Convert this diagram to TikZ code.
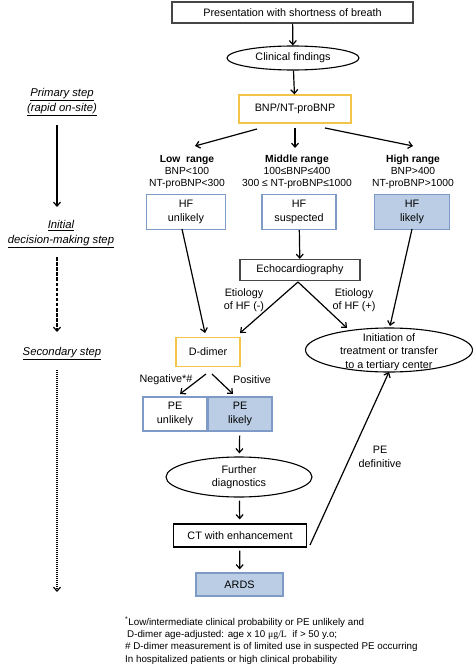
\documentclass[tikz,border=0pt]{standalone}
\usepackage{fontspec}
\setmainfont{Liberation Sans}
\newfontfamily\serifmu{Liberation Serif}
\usetikzlibrary{arrows.meta,shapes.geometric}
\definecolor{ylw}{RGB}{242,196,72}
\definecolor{bluebd}{RGB}{125,155,198}
\definecolor{bluefl}{RGB}{186,205,228}
\definecolor{grayln}{RGB}{70,70,70}
\tikzset{
  base/.style={font=\fontsize{10.8}{13.5}\selectfont, align=center, inner sep=0pt},
  blackbox/.style={base, draw=grayln, line width=1.1pt, rectangle},
  oval/.style={base, draw=black, line width=1.1pt, ellipse},
  ybox/.style={base, draw=ylw, line width=1.1pt},
  wbbox/.style={base, draw=bluebd, line width=1.1pt, fill=white},
  fbbox/.style={base, draw=bluebd, line width=1.1pt, fill=bluefl},
  lbl/.style={base},
  rng/.style={font=\fontsize{10.3}{11.7}\selectfont, align=center, inner sep=0pt},
  steplbl/.style={font=\fontsize{11.3}{14.5}\selectfont\itshape, align=center, inner sep=0pt},
  arr/.style={line width=1.2pt, -{Straight Barb[length=4pt,width=7pt,line width=1.2pt]}},
}
\begin{document}
\begin{tikzpicture}[x=1pt,y=-1pt]
\useasboundingbox (0,0) rectangle (474,669);

% main nodes
\node[blackbox, minimum width=241pt, minimum height=21pt] (top) at (292.5,12.5) {Presentation with shortness of breath};
\node[oval, minimum width=132pt, minimum height=24pt] (clin) at (293,58) {Clinical findings};
\node[ybox, minimum width=112pt, minimum height=28pt] (bnp) at (295,109) {BNP/NT-proBNP};

\node[rng] (low) at (187,172) {\textbf{Low\ \ range}\\BNP<100\\NT-proBNP<300};
\node[rng] (mid) at (297,172) {\textbf{Middle range}\\100≤BNP≤400\\300 ≤ NT-proBNP≤1000};
\node[rng] (high) at (413,172) {\textbf{High range}\\BNP>400\\NT-proBNP>1000};

\node[wbbox, minimum width=79pt, minimum height=35pt] (hfu) at (186,212) {HF\\unlikely};
\node[wbbox, minimum width=74pt, minimum height=35pt] (hfs) at (299,212) {HF\\suspected};
\node[fbbox, minimum width=75pt, minimum height=35pt] (hfl) at (412,212) {HF\\likely};

\node[blackbox, minimum width=120pt, minimum height=21pt] (echo) at (300,270) {Echocardiography};
\node[lbl] (etm) at (244,300) {Etiology\\of HF (-)};
\node[lbl] (etp) at (354,300) {Etiology\\of HF (+)};

\node[ybox, minimum width=64pt, minimum height=29pt] (dd) at (208,352) {D-dimer};
\node[oval, minimum width=167pt, minimum height=44pt] (init) at (389,350) {};
\node[lbl] (inittxt) at (389,352) {Initiation of\\treatment or transfer\\to a tertiary center};

\node[lbl] (neg) at (166,380) {Negative*\#};
\node[lbl] (pos) at (252,380) {Positive};

\node[wbbox, minimum width=64pt, minimum height=34pt] (peu) at (175,414) {PE\\unlikely};
\node[fbbox, minimum width=64pt, minimum height=34pt] (pel) at (240,414) {PE\\likely};

\node[oval, minimum width=146pt, minimum height=40pt] (fur) at (239,477) {Further\\diagnostics};
\node[blackbox, draw=black, minimum width=133pt, minimum height=23pt] (ct) at (240,535.5) {CT with enhancement};
\node[fbbox, minimum width=87pt, minimum height=23pt] (ards) at (239.5,584.5) {ARDS};
\node[lbl] (pedef) at (380,457) {PE\\definitive};

% left column
\node[steplbl] (s1) at (62,102) {\underline{Primary step}\\\underline{(rapid on-site)}};
\node[steplbl] (s2) at (61,234) {\underline{Initial}\\\underline{decision-making step}};
\node[steplbl] (s3) at (62,354) {\underline{Secondary step}};
\coordinate (s1a) at (57,125);
\coordinate (s1b) at (57,207);
\coordinate (s2a) at (57,257);
\coordinate (s2b) at (57,332);
\coordinate (s3a) at (57,370);
\coordinate (s3b) at (57,592);
\draw[arr] (s1a) -- (s1b);
\draw[arr, dash pattern=on 3.5pt off 1.6pt] (s2a) -- (s2b);
\draw[arr, dash pattern=on 1pt off 1pt] (s3a) -- (s3b);

% coordinates for free ends
\coordinate (bl0) at (257,129);
\coordinate (bl1) at (195,146);
\coordinate (bm0) at (295,128);
\coordinate (bm1) at (295,148);
\coordinate (br0) at (325,128);
\coordinate (br1) at (413,146);
\coordinate (ddin) at (205,333);
\coordinate (ech0) at (298,282);
\coordinate (ddne) at (240,333);
\coordinate (inwl) at (347,328);
\coordinate (d0) at (206,374);
\coordinate (d1) at (180,394);
\coordinate (d2) at (212,374);
\coordinate (d3) at (233,394);
\coordinate (ct0) at (310,545);
\coordinate (inb) at (389,372);
\coordinate (hfu0) at (182,229);
\coordinate (hfl0) at (412,229);
\coordinate (inn) at (390,326);

% connectors
\draw[arr] (top) -- (clin);
\draw[arr] (clin) -- (bnp);
\draw[arr] (bl0) -- (bl1);
\draw[arr] (bm0) -- (bm1);
\draw[arr] (br0) -- (br1);
\draw[arr] (hfu0) -- (ddin);
\draw[arr] (hfs) -- (echo);
\draw[arr] (hfl0) -- (inn);
\draw[arr] (ech0) -- (ddne);
\draw[arr] (ech0) -- (inwl);
\draw[arr] (d0) -- (d1);
\draw[arr] (d2) -- (d3);
\draw[arr, shorten <=4pt, shorten >=3pt] (pel) -- (fur);
\draw[arr, shorten <=3pt, shorten >=4pt] (fur) -- (ct);
\draw[arr, shorten <=3pt, shorten >=3pt] (ct) -- (ards);
\draw[arr] (ct0) -- (inb);

% footnote
\node[anchor=north west, align=left, inner sep=0pt, font=\fontsize{9.8}{12.2}\selectfont] (fn) at (125,617)
{\textsuperscript{*}Low/intermediate clinical probability or PE unlikely and\\
\hspace{2pt}D-dimer age-adjusted: age x 10 {\serifmu μg/L}\ \ if > 50 y.o;\\
\# D-dimer measurement is of limited use in suspected PE occurring\\
In hospitalized patients or high clinical probability};
\end{tikzpicture}
\end{document}
